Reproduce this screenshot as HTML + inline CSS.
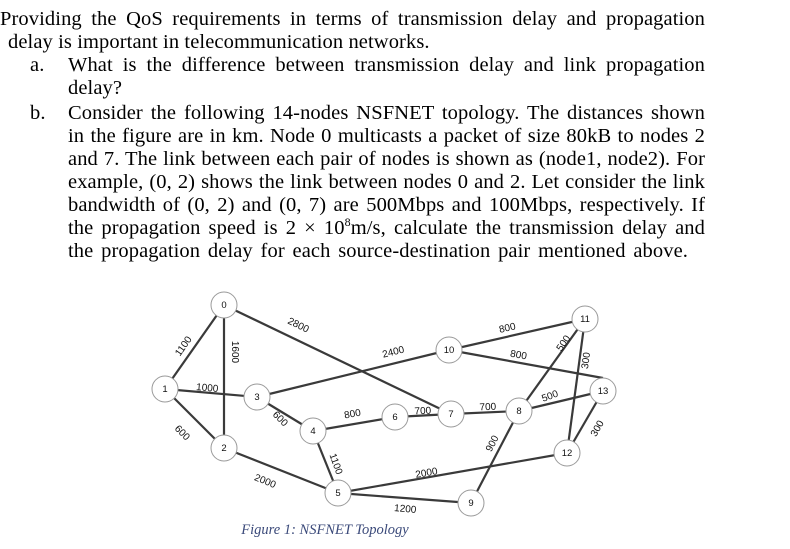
<!DOCTYPE html>
<html><head><meta charset="utf-8"><style>
body{margin:0;background:#fff;width:790px;height:549px;overflow:hidden;position:relative;font-family:"Liberation Serif",serif;color:#000}
.l{position:absolute;font-size:20.5px;line-height:22px;white-space:nowrap;text-align:justify;text-align-last:justify;letter-spacing:0.1px}
.n{text-align-last:left}
</style></head><body>
<div class="l" style="left:0;top:8px;width:705px">Providing the QoS requirements in terms of transmission delay and propagation</div>
<div class="l n" style="left:8px;top:31px;width:690px">delay is important in telecommunication networks.</div>
<div class="l n" style="left:30px;top:54px">a.</div>
<div class="l" style="left:68px;top:54px;width:637px">What is the difference between transmission delay and link propagation</div>
<div class="l n" style="left:68px;top:77px;width:637px">delay?</div>
<div class="l n" style="left:30px;top:102px">b.</div>
<div class="l" style="left:68px;top:102px;width:637px">Consider the following 14-nodes NSFNET topology. The distances shown</div>
<div class="l" style="left:68px;top:125px;width:637px">in the figure are in km. Node 0 multicasts a packet of size 80kB to nodes 2</div>
<div class="l" style="left:68px;top:148px;width:637px">and 7. The link between each pair of nodes is shown as (node1, node2). For</div>
<div class="l" style="left:68px;top:171px;width:637px">example, (0, 2) shows the link between nodes 0 and 2. Let consider the link</div>
<div class="l" style="left:68px;top:194px;width:637px">bandwidth of (0, 2) and (0, 7) are 500Mbps and 100Mbps, respectively. If</div>
<div class="l" style="left:68px;top:217px;width:637px">the propagation speed is 2 × 10<sup style="font-size:12px;line-height:0">8</sup>m/s, calculate the transmission delay and</div>
<div class="l" style="left:68px;top:240px;width:620px">the propagation delay for each source-destination pair mentioned above.</div>

<svg style="position:absolute;left:0;top:0" width="790" height="549" font-family="Liberation Sans, sans-serif">
<g stroke="#3a3a3a" stroke-width="2.2">
<line x1="224" y1="305" x2="165" y2="389"/>
<line x1="224" y1="305" x2="224" y2="448"/>
<line x1="224" y1="305" x2="451" y2="414"/>
<line x1="165" y1="389" x2="257" y2="397"/>
<line x1="165" y1="389" x2="224" y2="448"/>
<line x1="224" y1="448" x2="338" y2="493"/>
<line x1="257" y1="397" x2="449" y2="350"/>
<line x1="257" y1="397" x2="313" y2="431"/>
<line x1="313" y1="431" x2="395" y2="417"/>
<line x1="313" y1="431" x2="338" y2="493"/>
<line x1="395" y1="417" x2="451" y2="414"/>
<line x1="451" y1="414" x2="519" y2="411"/>
<line x1="338" y1="493" x2="567" y2="453"/>
<line x1="338" y1="493" x2="471" y2="503"/>
<line x1="449" y1="350" x2="585" y2="319"/>
<line x1="449" y1="350" x2="603" y2="378"/>
<line x1="519" y1="411" x2="585" y2="319"/>
<line x1="519" y1="411" x2="603" y2="391"/>
<line x1="519" y1="411" x2="471" y2="503"/>
<line x1="585" y1="319" x2="567" y2="453"/>
<line x1="603" y1="391" x2="567" y2="453"/>
</g>
<g fill="#fff" stroke="#9a9a9a" stroke-width="1">
<circle cx="224" cy="305" r="13"/><circle cx="165" cy="389" r="13"/><circle cx="224" cy="448" r="13"/>
<circle cx="257" cy="397" r="13"/><circle cx="313" cy="431" r="13"/><circle cx="338" cy="493" r="13"/>
<circle cx="395" cy="417" r="13"/><circle cx="451" cy="414" r="13"/><circle cx="519" cy="411" r="13"/>
<circle cx="471" cy="503" r="13"/><circle cx="449" cy="350" r="13"/><circle cx="585" cy="319" r="13"/>
<circle cx="567" cy="453" r="13"/><circle cx="603" cy="391" r="13"/>
</g>
<g font-size="9.5" text-anchor="middle" fill="#111">
<text x="224" y="308">0</text><text x="165" y="392">1</text><text x="224" y="451">2</text>
<text x="257" y="400">3</text><text x="313" y="434">4</text><text x="338" y="496">5</text>
<text x="395" y="420">6</text><text x="451" y="417">7</text><text x="519" y="414">8</text>
<text x="471" y="506">9</text><text x="449" y="353">10</text><text x="585" y="322">11</text>
<text x="567" y="456">12</text><text x="603" y="394">13</text>
</g>
<g font-size="10" text-anchor="middle" fill="#111">
<text transform="translate(186,348) rotate(-55)">1100</text>
<text transform="translate(232,352) rotate(90)">1600</text>
<text transform="translate(297,328) rotate(26)">2800</text>
<text transform="translate(207,391) rotate(5)">1000</text>
<text transform="translate(180,435) rotate(45)">600</text>
<text transform="translate(264,484) rotate(22)">2000</text>
<text transform="translate(394,355) rotate(-14)">2400</text>
<text transform="translate(278,421) rotate(45)">600</text>
<text transform="translate(353,417) rotate(-10)">800</text>
<text transform="translate(333,465) rotate(70)">1100</text>
<text transform="translate(423,414) rotate(-3)">700</text>
<text transform="translate(488,410) rotate(-3)">700</text>
<text transform="translate(427,476) rotate(-10)">2000</text>
<text transform="translate(405,512) rotate(5)">1200</text>
<text transform="translate(508,331) rotate(-13)">800</text>
<text transform="translate(518,358) rotate(10)">800</text>
<text transform="translate(566,345) rotate(-55)">500</text>
<text transform="translate(589,361) rotate(-82)">300</text>
<text transform="translate(551,399) rotate(-20)">500</text>
<text transform="translate(495,445) rotate(-62)">900</text>
<text transform="translate(600,430) rotate(-60)">300</text>
</g>
<text x="325" y="534" text-anchor="middle" font-family="Liberation Serif, serif" font-style="italic" font-size="14.5" fill="#3b4a7a">Figure 1: NSFNET Topology</text>
</svg>
</body></html>
